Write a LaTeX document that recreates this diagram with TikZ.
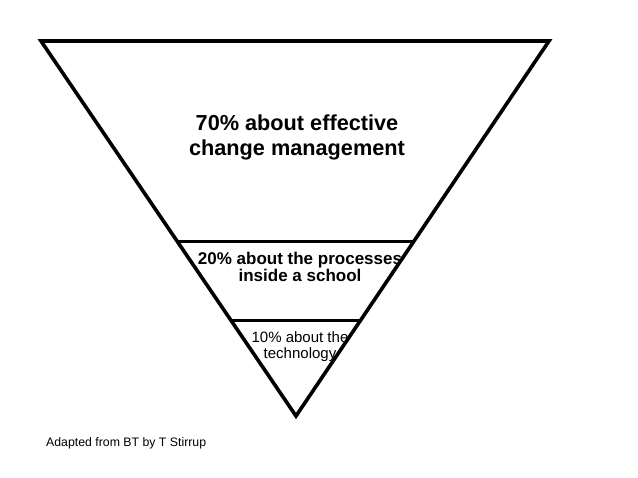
\documentclass[tikz,border=0pt]{standalone}
\usepackage{fontspec}
\setmainfont{Liberation Sans}
\begin{document}
\begin{tikzpicture}[x=1pt,y=-1pt,
  edge/.style={line width=3.6pt,line join=miter},
  band/.style={line width=3pt},
  lbl/.style={align=center,inner sep=0pt,anchor=base,text=black}]
\useasboundingbox (0,0) rectangle (638,478);
\coordinate (tl) at (41,41);
\coordinate (tr) at (549,41);
\coordinate (ap) at (296,416);
\draw[edge] (tl) -- (tr) -- (ap) -- cycle;
\coordinate (b1l) at (178,242);
\coordinate (b1r) at (413,242);
\coordinate (b2l) at (231,321);
\coordinate (b2r) at (360,321);
\draw[band] (b1l) -- (b1r);
\draw[band] (b2l) -- (b2r);
\node[lbl,font=\fontsize{21.7}{25.5}\selectfont\bfseries] (t70) at (297,156) {70\% about effective\\change management};
\node[lbl,font=\fontsize{17}{17}\selectfont\bfseries] (t20) at (300,282) {20\% about the processes\\inside a school};
\node[lbl,font=\fontsize{15}{16}\selectfont] (t10) at (300,359) {10\% about the\\technology};
\node[inner sep=0pt,anchor=base west,font=\fontsize{12.3}{14}\selectfont] (cap) at (46,447) {Adapted from BT by T Stirrup};
\end{tikzpicture}
\end{document}
